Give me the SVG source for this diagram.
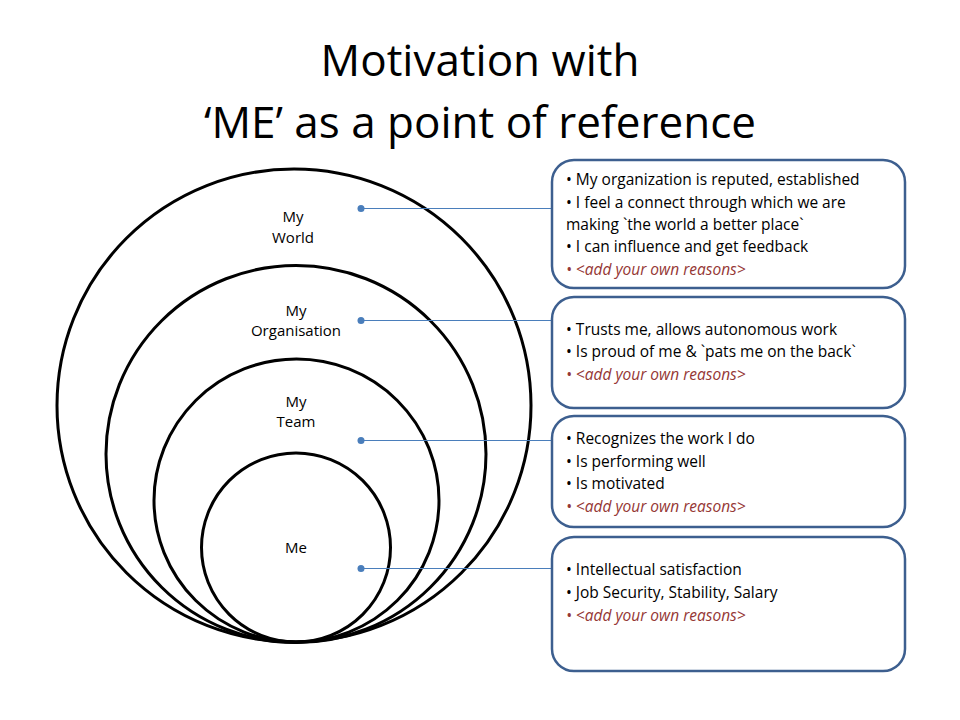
<svg xmlns="http://www.w3.org/2000/svg" width="960" height="720" viewBox="0 0 960 720">
<style>
text{font-family:"Open Sans","Liberation Sans",sans-serif;fill:#000}
.title{font-size:44px;text-anchor:middle}
.lbl{font-size:15px;text-anchor:middle}
.c{fill:none;stroke:#000;stroke-width:3}
.box{fill:#fff;stroke:#3d5f8f;stroke-width:2.5}
.bt{font-size:15.5px}
.add{fill:#953735;font-style:italic}
.ln{stroke:#4a7ebb;stroke-width:1.2}
.dot{fill:#4a7ebb}
</style>
<rect width="960" height="720" fill="#fff"/>
<text class="title" x="480" y="76">Motivation with</text>
<text class="title" x="480" y="138">‘ME’ as a point of reference</text>
<g id="world"><ellipse class="c" cx="294" cy="405.5" rx="237" ry="236.5"/><text class="lbl" x="293" y="222">My</text><text class="lbl" x="293" y="243">World</text></g>
<g id="organisation"><ellipse class="c" cx="296" cy="454" rx="190" ry="188.5"/><text class="lbl" x="296" y="316">My</text><text class="lbl" x="296" y="336">Organisation</text></g>
<g id="team"><ellipse class="c" cx="296.5" cy="500.5" rx="142.5" ry="141.5"/><text class="lbl" x="296" y="407">My</text><text class="lbl" x="296" y="427">Team</text></g>
<g id="me"><circle class="c" cx="296" cy="547.5" r="94.5"/><text class="lbl" x="296" y="553">Me</text></g>
<g id="connectors">
<line class="ln" x1="361" y1="208.5" x2="553" y2="208.5"/><circle class="dot" cx="361" cy="208.5" r="3.5"/>
<line class="ln" x1="361" y1="320.5" x2="553" y2="320.5"/><circle class="dot" cx="361" cy="320.5" r="3.5"/>
<line class="ln" x1="361" y1="440.5" x2="553" y2="440.5"/><circle class="dot" cx="361" cy="440.5" r="3.5"/>
<line class="ln" x1="361" y1="568.5" x2="553" y2="568.5"/><circle class="dot" cx="361" cy="568.5" r="3.5"/>
</g>
<g id="box-world"><rect class="box" x="552" y="160" width="353" height="128" rx="22"/>
<text class="bt" x="566" y="185">• My organization is reputed, established</text>
<text class="bt" x="566" y="208">• I feel a connect through which we are</text>
<text class="bt" x="566" y="230">making `the world a better place`</text>
<text class="bt" x="566" y="252">• I can influence and get feedback</text>
<text class="bt add" x="566" y="275">• &lt;add your own reasons&gt;</text></g>
<g id="box-org"><rect class="box" x="552" y="297" width="353" height="111" rx="22"/>
<text class="bt" x="566" y="335">• Trusts me, allows autonomous work</text>
<text class="bt" x="566" y="357">• Is proud of me &amp; `pats me on the back`</text>
<text class="bt add" x="566" y="380">• &lt;add your own reasons&gt;</text></g>
<g id="box-team"><rect class="box" x="552" y="416" width="353" height="111" rx="22"/>
<text class="bt" x="566" y="444">• Recognizes the work I do</text>
<text class="bt" x="566" y="467">• Is performing well</text>
<text class="bt" x="566" y="489">• Is motivated</text>
<text class="bt add" x="566" y="512">• &lt;add your own reasons&gt;</text></g>
<g id="box-me"><rect class="box" x="552" y="537" width="353" height="134" rx="22"/>
<text class="bt" x="566" y="575">• Intellectual satisfaction</text>
<text class="bt" x="566" y="598">• Job Security, Stability, Salary</text>
<text class="bt add" x="566" y="621">• &lt;add your own reasons&gt;</text></g>
</svg>
